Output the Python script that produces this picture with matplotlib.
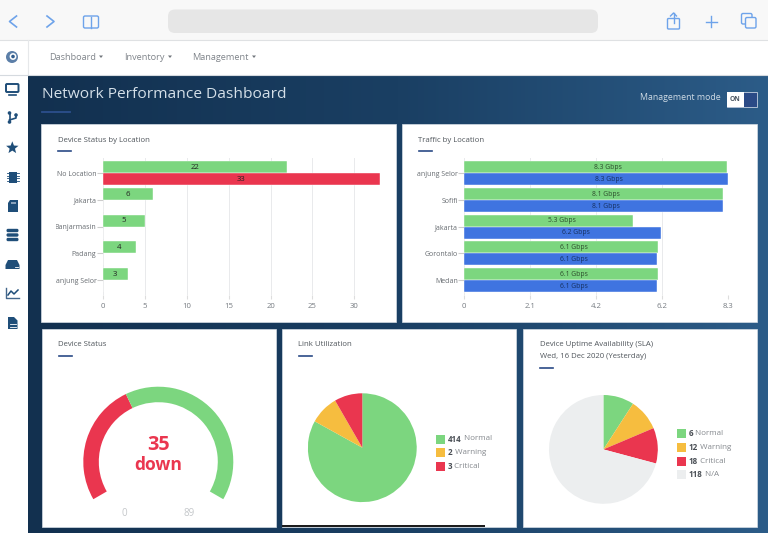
import numpy as np
import matplotlib
matplotlib.use("Agg")
import matplotlib.pyplot as plt
from matplotlib.patches import Rectangle, FancyBboxPatch, Wedge, Circle, Polygon
from matplotlib.transforms import Bbox

plt.rcParams["font.family"] = ["Open Sans", "DejaVu Sans"]

W, H = 768, 533

GREEN = "#7cd67f"
RED = "#ea364f"
BLUE = "#3f74e0"
YELLOW = "#f6bd3f"
GREY = "#eceeef"
NAVY = "#2a4a86"
ICON = "#1f4e79"
SAFARI = "#6ea3ea"

status_locations = ["No Location", "Jakarta", "Banjarmasin", "Padang", "Tanjung Selor"]
status_ok = [22, 6, 5, 4, 3]
status_down = [33, 0, 0, 0, 0]
status_ticks = [0, 5, 10, 15, 20, 25, 30]

traffic_locations = ["Tanjung Selor", "Sofifi", "Jakarta", "Gorontalo", "Medan"]
traffic_in = [8.25, 8.12, 5.32, 6.10, 6.08]
traffic_out = [8.30, 8.12, 6.20, 6.07, 6.07]
traffic_in_labels = ["8.3 Gbps", "8.1 Gbps", "5.3 Gbps", "6.1 Gbps", "6.1 Gbps"]
traffic_out_labels = ["8.3 Gbps", "8.1 Gbps", "6.2 Gbps", "6.1 Gbps", "6.1 Gbps"]
traffic_ticks = [0, 2.075, 4.15, 6.225, 8.3]
traffic_tick_labels = ["0", "2.1", "4.2", "6.2", "8.3"]

gauge_down = 35
gauge_total = 89

# slice sizes as drawn (degrees), they do not follow the legend counts
link_slices = [299, 31, 30]
link_counts = ["414", "2", "3"]
link_names = ["Normal", "Warning", "Critical"]

sla_slices = [33, 34, 38, 255]
sla_counts = ["6", "12", "18", "118"]
sla_names = ["Normal", "Warning", "Critical", "N/A"]

nav_items = ["Dashboard", "Inventory", "Management"]


fig = plt.figure(figsize=(W / 100, H / 100), dpi=100, facecolor="white")
bg = fig.add_axes([0, 0, 1, 1])
bg.set_xlim(0, W)
bg.set_ylim(H, 0)
bg.axis("off")


def px_axes(x0, y0, x1, y1):
    return fig.add_axes([x0 / W, 1 - y1 / H, (x1 - x0) / W, (y1 - y0) / H])


def draw_chrome():
    bg.add_patch(Rectangle((0, 0), W, 40, fc="#f8f8f8", ec="none"))
    bg.plot([0, W], [40, 40], color="#dfe1e3", lw=0.8)
    bg.add_patch(FancyBboxPatch((168, 9.5), 430, 23.5, boxstyle="round,pad=0,rounding_size=7",
                                fc="#e6e6e6", ec="none"))
    bg.plot([16.5, 9.5, 16.5], [16, 21.5, 27], color=SAFARI, lw=1.2)
    bg.plot([47, 54, 47], [16, 21.5, 27], color=SAFARI, lw=1.2)
    bg.plot([91, 91], [17, 28], color=SAFARI, lw=1.0)
    bg.add_patch(FancyBboxPatch((83.5, 16), 15, 12, boxstyle="round,pad=0,rounding_size=1.5",
                                fc="none", ec=SAFARI, lw=1.0))
    # share, plus, tabs
    bg.add_patch(FancyBboxPatch((667.5, 18.5), 12, 10.5, boxstyle="round,pad=0,rounding_size=1",
                                fc="none", ec=SAFARI, lw=1.0))
    bg.plot([673.5, 673.5], [13, 23], color=SAFARI, lw=1.0)
    bg.plot([670.5, 673.5, 676.5], [16, 13, 16], color=SAFARI, lw=1.0)
    bg.plot([705.5, 716.5], [21.7, 21.7], color=SAFARI, lw=1.0)
    bg.plot([711, 711], [16, 27], color=SAFARI, lw=1.0)
    bg.add_patch(FancyBboxPatch((741.5, 13.5), 10.5, 10.5, boxstyle="round,pad=0,rounding_size=1.5",
                                fc="none", ec=SAFARI, lw=1.0))
    bg.add_patch(FancyBboxPatch((745.5, 17.5), 10.5, 10.5, boxstyle="round,pad=0,rounding_size=1.5",
                                fc="#f8f8f8", ec=SAFARI, lw=1.0, zorder=3))

    # top nav and sidebar
    bg.plot([28, 28], [40, 75], color="#e6e8ea", lw=0.8)
    bg.plot([0, W], [75, 75], color="#d5dadf", lw=0.8)
    for name, x, tri in zip(nav_items, [49, 124, 192], [101, 170, 254]):
        bg.text(x, 57, name, fontsize=6.6, color="#80858b", va="center")
        bg.add_patch(Polygon([[tri - 2, 55.5], [tri + 2, 55.5], [tri, 58]], fc="#70757b", ec="none"))

    bg.add_patch(Circle((12, 57), 6, fc="#5c7fa8", ec="none"))
    bg.add_patch(Circle((13, 56.5), 3.4, fc="white", ec="none"))
    bg.add_patch(Circle((13, 56.5), 1.8, fc="#2f5b8c", ec="none"))

    # dark page background
    grad = np.linspace(0, 1, 256).reshape(1, -1)
    cmap = matplotlib.colors.LinearSegmentedColormap.from_list("page", ["#12304f", "#1a3f63", "#2c5c88"])
    bg.imshow(grad, extent=[28, W, H, 75], cmap=cmap, aspect="auto", zorder=0.5)
    bg.set_xlim(0, W)
    bg.set_ylim(H, 0)

    bg.text(41.5, 94, "Network Performance Dashboard", fontsize=11.15, color="#d4dfe8", va="center", zorder=2)
    bg.plot([42, 70], [111.5, 111.5], color="#2c4f8c", lw=1.3, zorder=2)
    bg.text(640.5, 98, "Management mode", fontsize=6.3, color="#cfdbe5", va="center", zorder=2)
    bg.add_patch(Rectangle((727, 92), 29.5, 14.5, fc="#2b4a86", ec="#c5d0e0", lw=0.6, zorder=2))
    bg.add_patch(Rectangle((727, 92), 16.5, 14.5, fc="white", ec="none", zorder=3))
    bg.text(735, 99.3, "ON", fontsize=4.8, fontweight="bold", color="#4a5560", ha="center",
            va="center", zorder=4)


def draw_sidebar():
    bg.add_patch(FancyBboxPatch((6, 84), 12.5, 8, boxstyle="round,pad=0,rounding_size=1", fc="none", ec=ICON, lw=1.4))
    bg.plot([9, 16], [95, 95], color=ICON, lw=1.2)
    # branch
    for cx, cy in [(9.5, 113), (9.5, 122), (16, 115)]:
        bg.add_patch(Circle((cx, cy), 1.8, fc=ICON, ec="none"))
    bg.plot([9.5, 9.5], [113, 122], color=ICON, lw=1.2)
    bg.plot([16, 16, 9.5], [115, 118, 120], color=ICON, lw=1.2)
    # star
    ang = np.deg2rad(np.arange(10) * 36 - 90)
    rad = np.array([6.5, 2.8] * 5)
    bg.add_patch(Polygon(np.c_[12.3 + rad * np.cos(ang), 147.8 + rad * np.sin(ang)], fc=ICON, ec="none"))
    # chip
    bg.add_patch(Rectangle((8.5, 171.5), 8.5, 11, fc=ICON, ec="none"))
    for y in [173, 175.5, 178, 180.5]:
        bg.plot([7, 18.5], [y, y], color=ICON, lw=0.6)
    # sd card
    bg.add_patch(Polygon([[10, 200], [18, 200], [18, 212], [7.5, 212], [7.5, 203]], fc=ICON, ec="none"))
    bg.add_patch(Rectangle((10.5, 202), 5, 1.5, fc="#8aa2bb", ec="none"))
    # database
    for y in [230.5, 235, 239.5]:
        bg.add_patch(FancyBboxPatch((6.5, y - 1.7), 12, 3.4, boxstyle="round,pad=0,rounding_size=1.5",
                                    fc=ICON, ec="none"))
    # drive
    bg.add_patch(Polygon([[8, 260], [17, 260], [19.5, 265], [19.5, 269], [5.5, 269], [5.5, 265]], fc=ICON, ec="none"))
    bg.plot([15, 18], [267, 267], color="white", lw=0.6)
    # chart
    bg.plot([6, 6, 19], [288, 298, 298], color="#44678c", lw=1.0)
    bg.plot([8, 11, 14, 18], [295, 291, 294, 290], color=ICON, lw=1.1)
    # file
    bg.add_patch(Polygon([[8, 317], [14, 317], [17.5, 320.5], [17.5, 329], [8, 329]], fc=ICON, ec="none"))
    bg.plot([10, 15.5], [324, 324], color="white", lw=0.6)
    bg.plot([10, 15.5], [326.5, 326.5], color="white", lw=0.6)


def draw_card(x0, y0, x1, y1, title, title2=None):
    bg.add_patch(Rectangle((x0, y0), x1 - x0, y1 - y0, fc="white", ec="#d5dde5", lw=0.5, zorder=1))
    bg.text(x0 + 16.5, y0 + 16, title, fontsize=5.6, color="#50565c", va="center", zorder=2)
    rule_y = y0 + 27
    if title2:
        bg.text(x0 + 16.5, y0 + 28, title2, fontsize=5.6, color="#50565c", va="center", zorder=2)
        rule_y = y0 + 38.5
    bg.plot([x0 + 17, x0 + 30], [rule_y, rule_y], color=NAVY, lw=1.2, zorder=2)


def bar_panel(rect, names, top, bottom, top_color, bottom_color, xmax, ticks):
    ax = px_axes(*rect)
    y = np.arange(len(names))
    h = 12 / 26.67
    ax.barh(y - h / 2, top, height=h, color=top_color, edgecolor="#ffffff", linewidth=0.3, zorder=2)
    ax.barh(y + h / 2, bottom, height=h, color=bottom_color, edgecolor="#ffffff", linewidth=0.3, zorder=2)
    ax.set_xlim(0, xmax)
    ax.set_ylim(len(names) - 0.5 + 0.06, -0.5 - 0.075)
    ax.set_xticks(ticks)
    ax.set_yticks(y)
    ax.set_yticklabels(names)
    ax.grid(axis="x", color="#e9eaec", lw=0.7, zorder=0)
    ax.tick_params(axis="x", length=3, color="#dddddd", labelsize=5.6, labelcolor="#777c82", pad=3)
    ax.tick_params(axis="y", length=4, color="#cccccc", labelsize=5.0, labelcolor="#666b70", pad=0.5)
    for s in ax.spines.values():
        s.set_visible(False)
    ax.patch.set_alpha(0)
    # long names get cut off at the card padding, as in the real page
    for lbl in ax.get_yticklabels():
        lbl.set_clip_on(True)
        lbl.set_clip_box(Bbox.from_extents(rect[0] - 47, 0, rect[0], H))
    return ax, y, h


def pie_panel(cx, cy, r, slices, colors, legend_x, legend_y, step, counts, names):
    ax = px_axes(cx - r, cy - r, cx + r, cy + r)
    ax.pie(slices, colors=colors, radius=1, startangle=90, counterclock=False)
    ax.set_xlim(-1, 1)
    ax.set_ylim(-1, 1)
    for i, (col, count, name) in enumerate(zip(colors, counts, names)):
        y = legend_y + i * step
        bg.add_patch(Rectangle((legend_x, y - 4.5), 9, 9, fc=col, ec="none", zorder=2))
        t = bg.text(legend_x + 12, y, count, fontsize=5.8, fontweight="bold", color="#4a4f55",
                    va="center", zorder=2)
        bg.annotate(" " + name, xy=(1, 0.5), xycoords=t, fontsize=5.8, color="#85898e", va="center", zorder=2)


draw_chrome()
draw_sidebar()

draw_card(41, 124, 396, 322, "Device Status by Location")
draw_card(402, 124, 757, 322, "Traffic by Location")
draw_card(41.5, 329, 275.5, 526.5, "Device Status")
draw_card(282, 329, 516, 526.5, "Link Utilization")
draw_card(523, 329, 757, 526.5, "Device Uptime Availability (SLA)", "Wed, 16 Dec 2020 (Yesterday)")

# left bars
ax1, y1, h1 = bar_panel((102.7, 158, 379.6, 295), status_locations, status_ok, status_down,
                        GREEN, RED, 33, status_ticks)
for yi, v, d in zip(y1, status_ok, status_down):
    ax1.text(v / 2, yi - h1 / 2, str(v), ha="center", va="center", fontsize=5.6, color="#222222", zorder=3)
    if d:
        ax1.text(d / 2, yi + h1 / 2, str(d), ha="center", va="center", fontsize=5.6, color="#222222", zorder=3)

# right bars, the labels sit a bit right of the bar centre
ax2, y2, h2 = bar_panel((464, 158, 728.3, 295), traffic_locations, traffic_in, traffic_out,
                        GREEN, BLUE, 8.3, traffic_ticks)
ax2.set_xticklabels(traffic_tick_labels)
for yi, a, b, la, lb in zip(y2, traffic_in, traffic_out, traffic_in_labels, traffic_out_labels):
    ax2.annotate(la, (a / 2, yi - h2 / 2), xytext=(9.4, 0), textcoords="offset points", ha="center",
                 va="center", fontsize=4.9, color="#2b4a2b", zorder=3)
    ax2.annotate(lb, (b / 2, yi + h2 / 2), xytext=(9.4, 0), textcoords="offset points", ha="center",
                 va="center", fontsize=4.9, color="#16305f", zorder=3)

# gauge, 240 degree sweep
gauge_cx, gauge_cy, gauge_r = 158.3, 461.7, 75
split = 210 - 240 * gauge_down / gauge_total
bg.add_patch(Wedge((gauge_cx, gauge_cy), gauge_r, -210, -split, width=15.5, fc=RED, ec="none", zorder=2))
bg.add_patch(Wedge((gauge_cx, gauge_cy), gauge_r, -split, 30, width=15.5, fc=GREEN, ec="none", zorder=2))
bg.text(158, 445.5, str(gauge_down), fontsize=14.2, fontweight="bold", color=RED, ha="center", va="center", zorder=3)
bg.text(158, 464.5, "down", fontsize=12.6, fontweight="bold", color=RED, ha="center", va="center", zorder=3)
bg.text(124.5, 514, "0", fontsize=7, color="#c4c7ca", ha="center", va="center", zorder=3)
bg.text(189.5, 514, "89", fontsize=7, color="#c4c7ca", ha="center", va="center", zorder=3)

pie_panel(362.3, 447.7, 54.4, link_slices, [GREEN, YELLOW, RED], 436, 439, 13.7, link_counts, link_names)
pie_panel(603.4, 449.4, 54.4, sla_slices, [GREEN, YELLOW, RED, GREY], 676.8, 433.5, 13.8, sla_counts, sla_names)

# stray dark strip under the middle card in the screenshot
bg.add_patch(Rectangle((282, 524.5), 203, 2.5, fc="#1c1c1c", ec="none", zorder=3))

fig.savefig("out.png", dpi=100)
